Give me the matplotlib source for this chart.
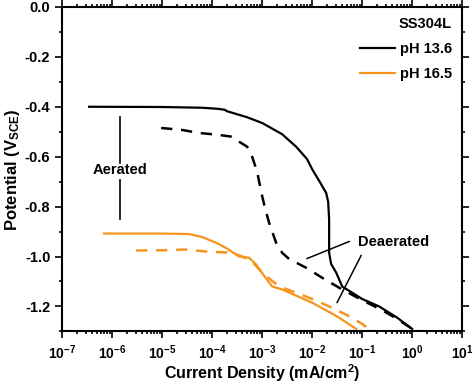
import numpy as np
import matplotlib
matplotlib.use("Agg")
import matplotlib.pyplot as plt
from matplotlib.ticker import LogLocator, MultipleLocator, FuncFormatter, NullFormatter

plt.rcParams['font.family'] = ['Liberation Sans', 'DejaVu Sans']
plt.rcParams['font.weight'] = 'bold'
plt.rcParams['mathtext.fontset'] = 'custom'
plt.rcParams['mathtext.rm'] = 'Liberation Sans:bold'
plt.rcParams['mathtext.bf'] = 'Liberation Sans:bold'
plt.rcParams['mathtext.it'] = 'Liberation Sans:bold'
plt.rcParams['mathtext.default'] = 'bf'

# pH 13.6 aerated (black solid): log10 current, potential
b_sol_logi = [-6.46, -5.0, -4.2, -3.9, -3.75, -3.7, -3.6, -3.5, -3.3, -3.0, -2.6, -2.32, -2.1, -2.0, -1.85, -1.72, -1.68, -1.66, -1.66, -1.62, -1.52, -1.4, -1.0, -0.66, -0.3, 0.0]
b_sol_E = [-0.400, -0.401, -0.404, -0.408, -0.412, -0.418, -0.424, -0.430, -0.442, -0.465, -0.510, -0.560, -0.610, -0.650, -0.700, -0.745, -0.780, -0.850, -0.985, -1.030, -1.064, -1.120, -1.170, -1.200, -1.245, -1.290]

# pH 13.6 deaerated (black dashed)
b_dash_logi = [-5.02, -4.6, -4.26, -3.9, -3.6, -3.46, -3.3, -3.2, -3.1, -3.02, -2.95, -2.86, -2.72, -2.6, -2.46, -2.12, -1.8, -1.46, -1.0, -0.6, -0.3, 0.0]
b_dash_E = [-0.485, -0.493, -0.505, -0.512, -0.520, -0.540, -0.560, -0.600, -0.660, -0.740, -0.800, -0.865, -0.945, -0.985, -1.010, -1.045, -1.085, -1.125, -1.175, -1.215, -1.250, -1.290]

# pH 16.5 aerated (orange solid)
o_sol_logi = [-6.16, -5.0, -4.46, -4.2, -3.92, -3.7, -3.46, -3.26, -3.12, -2.95, -2.8, -2.6, -2.0, -1.5, -1.12]
o_sol_E = [-0.908, -0.908, -0.910, -0.922, -0.945, -0.968, -1.000, -1.005, -1.032, -1.080, -1.120, -1.132, -1.185, -1.240, -1.290]

# pH 16.5 deaerated (orange dashed)
o_dash_logi = [-5.52, -5.0, -4.52, -4.12, -3.6, -3.4, -3.2, -3.0, -2.66, -2.32, -2.0, -1.66, -1.3, -1.0, -0.9]
o_dash_E = [-0.976, -0.975, -0.972, -0.980, -0.985, -1.000, -1.020, -1.065, -1.120, -1.145, -1.170, -1.200, -1.235, -1.270, -1.285]

legend_title = "SS304L"
series_labels = ["pH 13.6", "pH 16.5"]
black = "#000000"
orange = "#F7941D"

fig = plt.figure(figsize=(4.74, 3.84), dpi=100)
ax = fig.add_axes([0.131, 0.137, 0.844, 0.845])

dash = (0, (4.5, 3.5))
ax.plot(10**np.array(b_sol_logi), b_sol_E, color=black, lw=1.6, label=series_labels[0])
ax.plot(10**np.array(b_dash_logi), b_dash_E, color=black, lw=1.8, linestyle=dash)
ax.plot(10**np.array(o_sol_logi), o_sol_E, color=orange, lw=1.6, label=series_labels[1])
ax.plot(10**np.array(o_dash_logi), o_dash_E, color=orange, lw=1.8, linestyle=dash)

ax.set_xscale('log')
ax.set_xlim(1e-7, 1e1)
ax.set_ylim(-1.3, 0.0)

ax.xaxis.set_major_locator(LogLocator(base=10, numticks=20))
ax.xaxis.set_minor_locator(LogLocator(base=10, subs=np.arange(2, 10), numticks=100))
ax.xaxis.set_minor_formatter(NullFormatter())
ax.xaxis.set_major_formatter(FuncFormatter(lambda v, p: r'$10^{%d}$' % int(round(np.log10(v)))))
ax.yaxis.set_major_locator(MultipleLocator(0.2))
ax.yaxis.set_minor_locator(MultipleLocator(0.1))
ax.yaxis.set_major_formatter(FuncFormatter(lambda v, p: '%.1f' % v if abs(v) > 1e-9 else '0.0'))

ax.tick_params(which='both', direction='out', top=True, right=True, width=1.2)
ax.tick_params(axis='y', labelsize=10.5)
ax.tick_params(axis='x', labelsize=10, pad=4)
ax.tick_params(which='major', length=5)
ax.tick_params(which='minor', length=2.5)
for s in ax.spines.values():
    s.set_linewidth(1.5)

ax.set_xlabel('Current Density (mA/cm$^{2}$)', fontsize=11.5, fontweight='bold', labelpad=0)
ax.set_ylabel('Potential (V$_{SCE}$)', fontsize=12, fontweight='bold', labelpad=2)

# Annotations
ax.text(1.45e-6, -0.652, 'Aerated', ha='center', va='center', fontsize=10.5, fontweight='bold')
ax.plot([1.45e-6, 1.45e-6], [-0.44, -0.625], color=black, lw=1.2)
ax.plot([1.45e-6, 1.45e-6], [-0.695, -0.85], color=black, lw=1.2)
ax.text(10**-0.38, -0.94, 'Deaerated', ha='center', va='center', fontsize=10.5, fontweight='bold')
ax.plot([10**-1.26, 10**-2.1], [-0.94, -1.008], color=black, lw=1.1)
ax.plot([10**-1.02, 10**-1.5], [-0.996, -1.184], color=black, lw=1.1)

leg = ax.legend(loc='upper right', frameon=False, title=legend_title, fontsize=10.5,
                handlelength=2.4, handletextpad=0.3, labelspacing=0.75,
                borderaxespad=0.3, alignment='right')
leg.get_title().set_fontweight('bold')
leg.get_title().set_fontsize(10.5)
for t in leg.get_texts():
    t.set_fontweight('bold')

fig.savefig('out.png', dpi=100)
